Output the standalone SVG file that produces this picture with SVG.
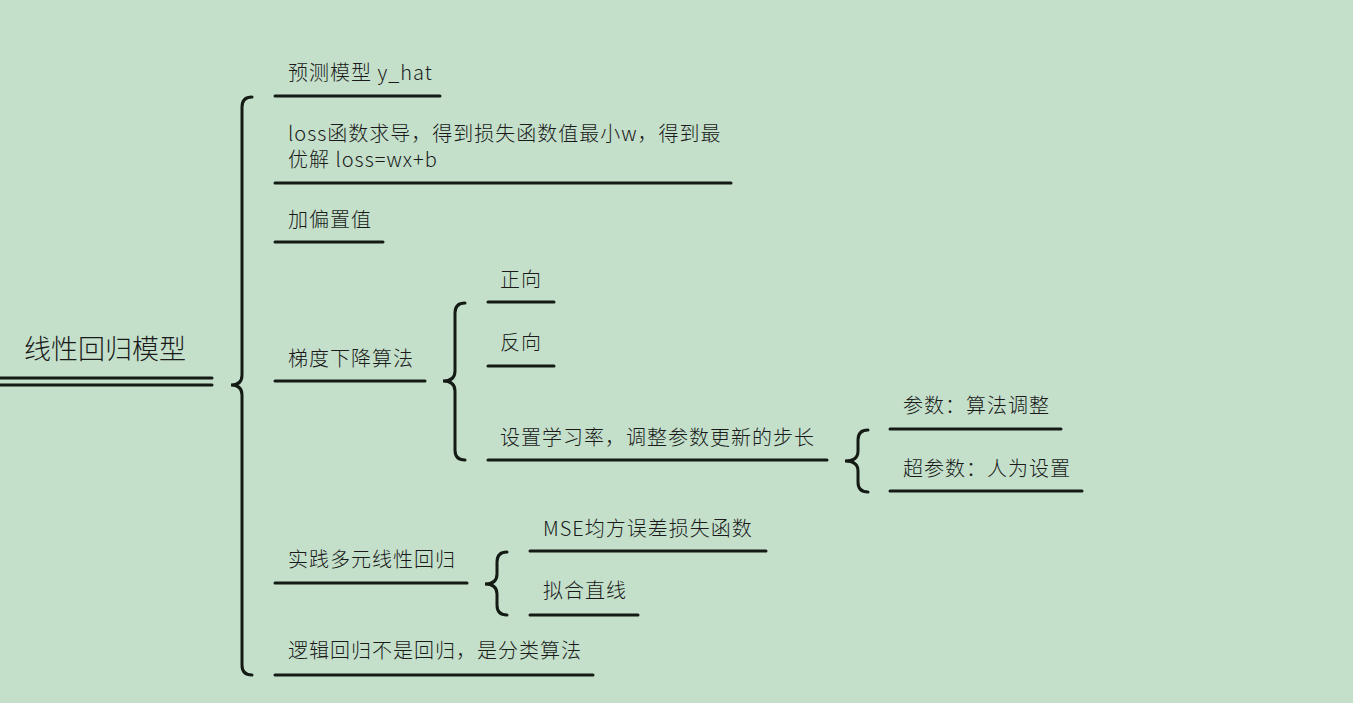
<svg xmlns="http://www.w3.org/2000/svg" width="1353" height="703" viewBox="0 0 1353 703">
<style>
.l{stroke:#141a14;stroke-width:3;fill:none;stroke-linecap:round}
.t{font-family:"Noto Sans CJK SC","Noto Sans",sans-serif;font-size:20px;letter-spacing:1px;font-weight:300;fill:#1a1a1a}
.r{font-family:"Noto Sans CJK SC","Noto Sans",sans-serif;font-size:27px;font-weight:300;fill:#1a1a1a}
</style>
<rect width="1353" height="703" fill="#c4e0cb"/>
<g id="connectors">
<path class="l" d="M0 378H212M0 385H212"/>
<path class="l" d="M252 97Q242 97 242 107V375Q242 385 231 385Q242 385 242 395V665Q242 675 252 675"/>
<path class="l" d="M465 303Q455 303 455 313V371Q455 381 443 381Q455 381 455 391V450Q455 460 465 460"/>
<path class="l" d="M868 430Q858 430 858 440V451Q858 461 845 461Q858 461 858 471V482Q858 492 868 492"/>
<path class="l" d="M507 552Q497 552 497 562V574Q497 584 485 584Q497 584 497 594V605Q497 615 507 615"/>
</g>
<g id="root"><text class="r" x="24" y="359">线性回归模型</text></g>
<g id="n1"><text class="t" x="288" y="80">预测模型 y_hat</text><path class="l" d="M275 96H440"/></g>
<g id="n2"><text class="t" x="288" y="141">loss函数求导，得到损失函数值最小w，得到最</text><text class="t" x="288" y="167">优解 loss=wx+b</text><path class="l" d="M275 183H731"/></g>
<g id="n3"><text class="t" x="288" y="227">加偏置值</text><path class="l" d="M275 242H383"/></g>
<g id="n4"><text class="t" x="288" y="366">梯度下降算法</text><path class="l" d="M275 381H425"/></g>
<g id="n41"><text class="t" x="500" y="287">正向</text><path class="l" d="M488 302H554"/></g>
<g id="n42"><text class="t" x="500" y="350">反向</text><path class="l" d="M488 366H554"/></g>
<g id="n43"><text class="t" x="500" y="445">设置学习率，调整参数更新的步长</text><path class="l" d="M488 460H827"/></g>
<g id="n431"><text class="t" x="903" y="413">参数：算法调整</text><path class="l" d="M890 429H1061"/></g>
<g id="n432"><text class="t" x="903" y="476">超参数：人为设置</text><path class="l" d="M890 491H1082"/></g>
<g id="n5"><text class="t" x="288" y="567">实践多元线性回归</text><path class="l" d="M275 583H467"/></g>
<g id="n51"><text class="t" x="543" y="536">MSE均方误差损失函数</text><path class="l" d="M530 551H766"/></g>
<g id="n52"><text class="t" x="543" y="598">拟合直线</text><path class="l" d="M530 615H638"/></g>
<g id="n6"><text class="t" x="288" y="658">逻辑回归不是回归，是分类算法</text><path class="l" d="M275 675H593"/></g>
</svg>
